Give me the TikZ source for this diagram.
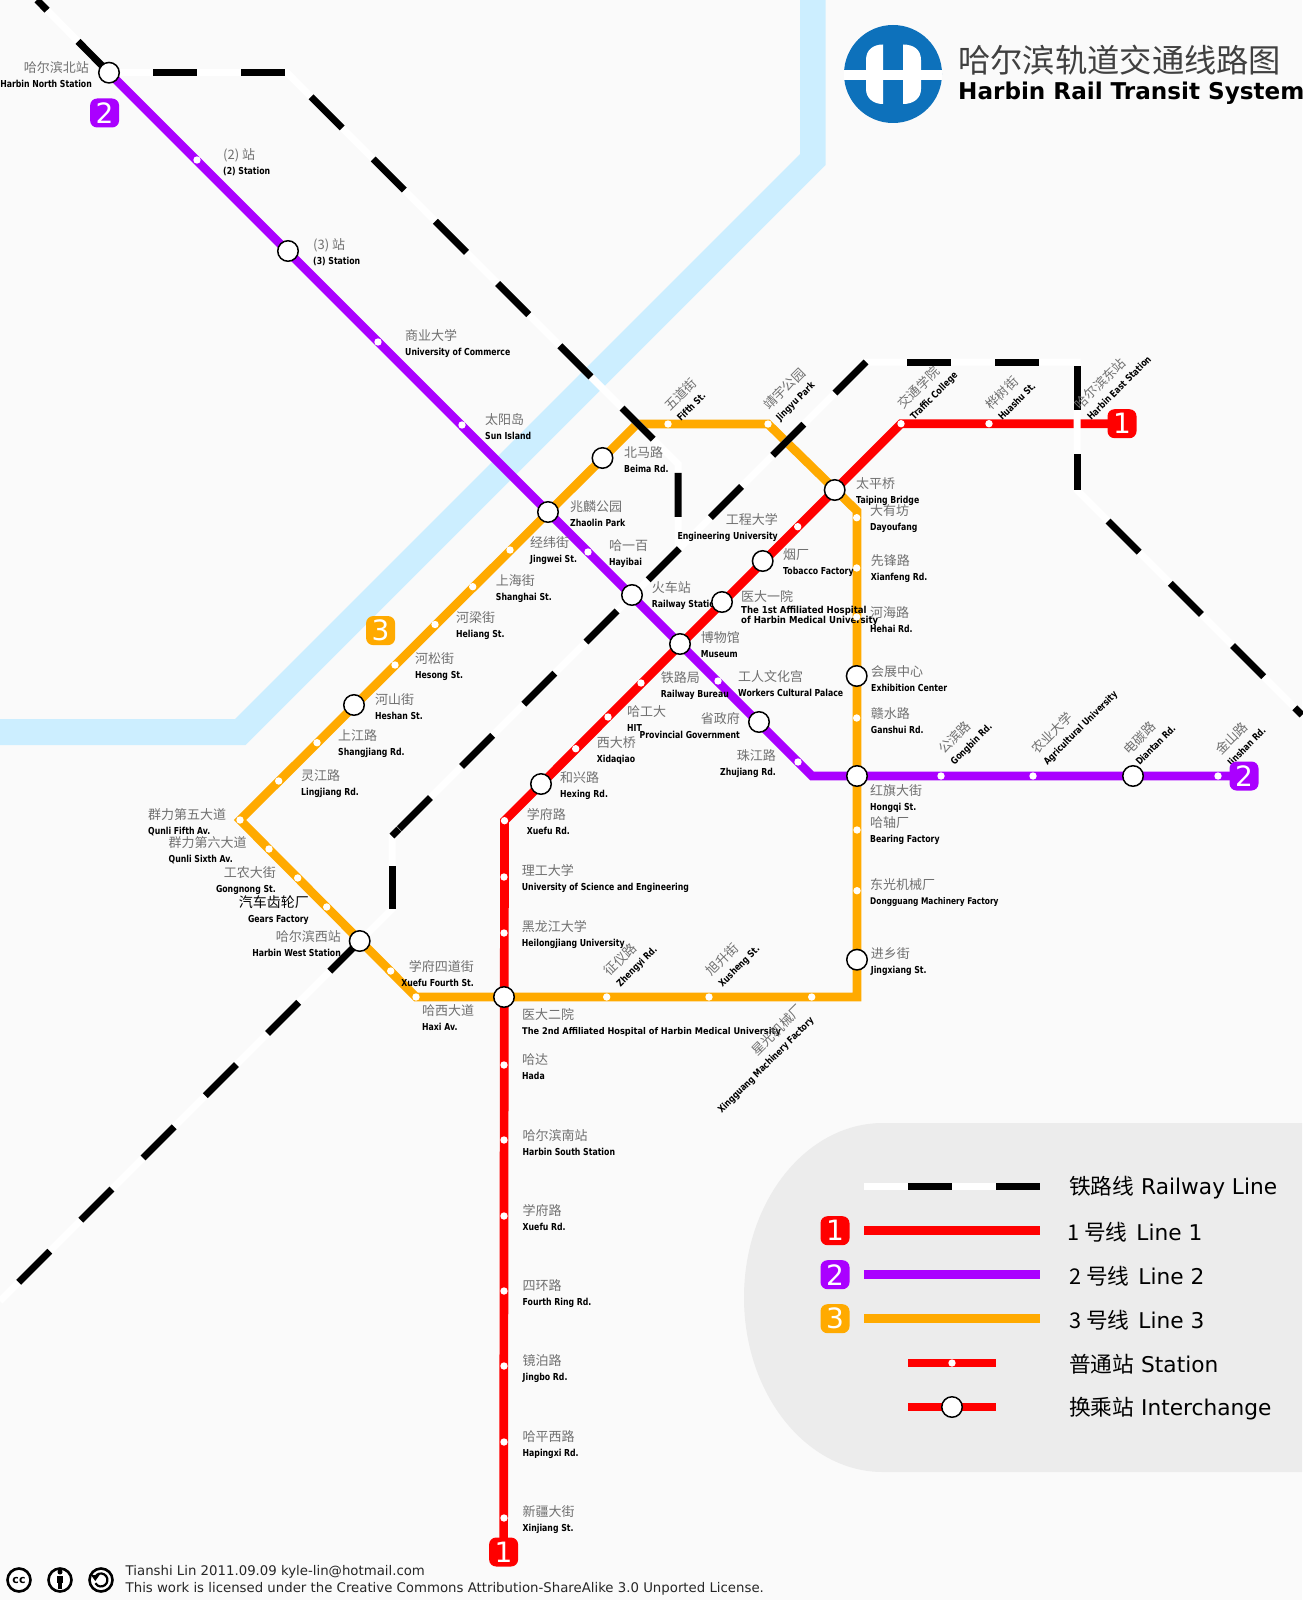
\documentclass[tikz,border=0pt]{standalone}
\usepackage{fontspec}
\usepackage{xcolor}
\usetikzlibrary{backgrounds}
\setmainfont{DejaVu Sans}
\newfontfamily\cjk{Noto Sans CJK SC}
\newfontfamily\enf[FakeStretch=0.81]{DejaVu Sans Bold}
\newfontfamily\enh[FakeStretch=0.89]{DejaVu Sans Bold}
\definecolor{paper} {RGB}{250,250,250}
\definecolor{river} {RGB}{204,238,255}
\definecolor{panel} {RGB}{236,236,236}
\definecolor{lred}  {RGB}{255,  0,  0}
\definecolor{lpurp} {RGB}{170,  0,255}
\definecolor{lorng} {RGB}{255,170,  0}
\definecolor{lblue} {RGB}{ 13,113,187}
\definecolor{zhgray}{RGB}{112,112,112}
% Chinese name over English name
\newcommand{\zhen}[2]{{\cjk\color{zhgray}\fontsize{13}{15}\selectfont #1}\\{\enf #2}}
\tikzset{
  % Map lines
  LR/.style={draw=lred,line width=8.7pt},
  LP/.style={draw=lpurp,line width=8.7pt},
  LO/.style={draw=lorng,line width=8.7pt},
  % Railway: white bed, black dashes
  RW/.style={draw=white,line width=7pt},
  RK/.style={draw=black,line width=7pt,dash pattern=on 44pt off 44pt},
  % Stations
  st/.style={circle,fill=white,inner sep=0pt,minimum size=7.4pt},
  ic/.style={circle,draw=black,fill=white,inner sep=0pt,
             minimum size=20.5pt,line width=1.5pt},
  % Line number plates
  plate/.style={rectangle,rounded corners=7pt,fill=#1,text=white,inner sep=0pt,
                minimum width=29pt,minimum height=29pt,
                font=\fontsize{28}{28}\selectfont},
  % Station labels
  lab/.style={anchor=west,align=left,inner sep=0pt,
              font=\fontsize{9.6}{15}\selectfont},
  labr/.style={lab,anchor=east,align=right},
  labs/.style={lab,rotate=45},
  labe/.style={labr,rotate=45},
  % Legend text
  leg/.style={anchor=west,inner sep=0pt,font=\fontsize{21.7}{24}\selectfont},
  cci/.style={circle,draw=black,fill=white,inner sep=0pt,
              minimum size=23pt,line width=2.6pt},
}
\begin{document}
\begin{tikzpicture}[x=1pt,y=-1pt]
\useasboundingbox (0,0) rectangle (1302,1600);
% -- Title --
\fill[lblue] (893,74) circle (49);
\fill[white] (844,70) rectangle (942,80);
\fill[white] (883,44.5) .. controls (873,44.5) and (866,50) .. (866,60) -- (866,89)
  .. controls (866,98) and (873,104) .. (883,104) -- cycle;
\fill[white] (903,44.5) .. controls (914,44.5) and (921,50) .. (921,60) -- (921,89)
  .. controls (921,98) and (914,104) .. (903,104) -- cycle;
\node[anchor=west,inner sep=0pt,font=\cjk\fontsize{32.3}{33}\selectfont,text=black!75]
at (958,60) (title) {哈尔滨轨道交通线路图};
\node[anchor=west,inner sep=0pt,font=\bfseries\fontsize{23.1}{24}\selectfont]
at (958,93.5) (titleen) {Harbin Rail Transit System};
% -- Line 2 --
\node[ic] (iHN) at (109,72.7) {};
\node[labr] (tHN) at (92,75) {\zhen{哈尔滨北站\hspace{3pt}}{Harbin North Station}};
\node[plate=lpurp] (pB2a) at (104.6,113) {2};
\node[st] (s2) at (197,160) {};
\node[lab] (t2) at (223,162.5) {\zhen{(2) 站}{(2) Station}};
\node[ic] (i3) at (288,251) {};
\node[lab] (t3) at (313,252.5) {\zhen{(3) 站}{(3) Station}};
\node[st] (sComm) at (378,342) {};
\node[lab] (tComm) at (405,343.5) {\zhen{商业大学}{University of Commerce}};
\node[st] (sSun) at (462,425) {};
\node[lab] (tSun) at (485,426.5) {\zhen{太阳岛}{Sun Island}};
\node[ic] (iZhao) at (548,512) {};
\node[lab] (tZhao) at (570,514) {\zhen{兆麟公园}{Zhaolin Park}};
\node[st] (sHay) at (588,552) {};
\node[lab] (tHay) at (609,553.5) {\zhen{哈一百}{Hayibai}};
\node[ic] (iRail) at (632,595) {};
\node[lab] (tRail) at (651.7,596) {\zhen{火车站}{Railway Station}};
\node[ic] (iMus) at (680,644) {};
\node[lab] (tMus) at (700.7,645) {\zhen{博物馆}{Museum}};
\node[st] (sWork) at (718,681) {};
\node[lab] (tWork) at (738,683.5) {\zhen{工人文化宫}{Workers Cultural Palace}};
\node[ic] (iGov) at (759,722) {};
\node[labr] (tGov) at (740,726) {\zhen{省政府}{Provincial Government}};
\node[st] (sZhu) at (798,762) {};
\node[labr] (tZhu) at (776,764) {\zhen{珠江路}{Zhujiang Rd.}};
\coordinate (cP) at (812,776);
\node[ic] (iHong) at (857,776) {};
\node[lab] (tHong) at (870,799) {\zhen{红旗大街}{Hongqi St.}};
\node[st] (sGong) at (941,776) {};
\node[labs] (tGong) at (946,757) {\zhen{公滨路}{Gongbin Rd.}};
\node[st] (sAgri) at (1033,776) {};
\node[labs] (tAgri) at (1039,757) {\zhen{农业大学}{Agricultural University}};
\node[ic] (iDian) at (1133,776) {};
\node[labs] (tDian) at (1130.5,757) {\zhen{电碳路}{Diantan Rd.}};
\node[st] (sJin) at (1218,776) {};
\node[labs] (tJin) at (1223,758) {\zhen{金山路}{Jinshan Rd.}};
\node[plate=lpurp] (pB2b) at (1244,776) {2};
% -- Line 1 --
\node[plate=lred] (pB1a) at (1122,423.7) {1};
\node[st] (sHua) at (989,423.7) {};
\node[labs] (tHua) at (993,412) {\zhen{桦树街}{Huashu St.}};
\node[labs] (tEast) at (1082,411.7) {\zhen{哈尔滨东站}{Harbin East Station}};
\node[st] (sTraf) at (901,423.7) {};
\node[labs] (tTraf) at (905.7,411.7) {\zhen{交通学院}{Traffic College}};
\node[ic] (iTai) at (834.7,490) {};
\node[lab] (tTai) at (856,491.5) {\zhen{太平桥}{Taiping Bridge}};
\node[st] (sEng) at (797.7,526.7) {};
\node[labr] (tEng) at (778,528) {\zhen{工程大学}{Engineering University}};
\node[ic] (iTob) at (762.7,561) {};
\node[lab] (tTob) at (783,562.5) {\zhen{烟厂}{Tobacco Factory}};
\node[ic] (iYi) at (722,602) {};
\node[lab,font=\fontsize{9.6}{10}\selectfont] (tYi) at (741,608) {{\cjk\color{zhgray}\fontsize{13}{15}\selectfont 医大一院}\\[2pt]{\enh The 1st Affiliated Hospital}\\{\enh of Harbin Medical University}};
\node[st] (sBur) at (641,683) {};
\node[lab] (tBur) at (660.7,685.5) {\zhen{铁路局}{Railway Bureau}};
\node[st] (sHit) at (608,717) {};
\node[lab] (tHit) at (627,718.5) {\zhen{哈工大}{HIT}};
\node[st] (sXida) at (575.7,748.7) {};
\node[lab] (tXida) at (596.7,750.5) {\zhen{西大桥}{Xidaqiao}};
\node[ic] (iHex) at (541,784) {};
\node[lab] (tHex) at (560,785.5) {\zhen{和兴路}{Hexing Rd.}};
\node[st] (sXuef) at (504.5,820.7) {};
\node[lab] (tXuef) at (526.7,822) {\zhen{学府路}{Xuefu Rd.}};
\node[st] (sLig) at (504,877) {};
\node[lab] (tLig) at (521.7,878.5) {\zhen{理工大学}{University of Science and Engineering}};
\node[st] (sHei) at (504,933) {};
\node[lab] (tHei) at (521.7,934.5) {\zhen{黑龙江大学}{Heilongjiang University}};
\node[ic] (iEr) at (504,997) {};
\node[lab,font=\fontsize{9.25}{15}\selectfont] (tEr) at (522,1022.5) {{\cjk\color{zhgray}\fontsize{13}{15}\selectfont 医大二院}\\{\enh The 2nd Affiliated Hospital of Harbin Medical University}};
\node[st] (sHada) at (504,1065) {};
\node[lab] (tHada) at (522,1066.5) {\zhen{哈达}{Hada}};
\node[st] (sSou) at (504,1140) {};
\node[lab] (tSou) at (522.5,1142.5) {\zhen{哈尔滨南站}{Harbin South Station}};
\node[st] (sXue2) at (504,1216) {};
\node[lab] (tXue2) at (522.5,1218) {\zhen{学府路}{Xuefu Rd.}};
\node[st] (sFou) at (504,1291) {};
\node[lab] (tFou) at (522.5,1293.5) {\zhen{四环路}{Fourth Ring Rd.}};
\node[st] (sJing) at (504,1366) {};
\node[lab] (tJing) at (522.5,1369) {\zhen{镜泊路}{Jingbo Rd.}};
\node[st] (sHap) at (504,1442) {};
\node[lab] (tHap) at (522.5,1444.5) {\zhen{哈平西路}{Hapingxi Rd.}};
\node[st] (sXin) at (504,1518) {};
\node[lab] (tXin) at (522.5,1520) {\zhen{新疆大街}{Xinjiang St.}};
\node[plate=lred] (pB1b) at (503.6,1552) {1};
% -- Line 3 --
\node[st] (sFif) at (668,424) {};
\node[labs] (tFif) at (671.8,413) {\zhen{五道街}{Fifth St.}};
\node[st] (sJy) at (768,424) {};
\node[labs] (tJy) at (771.6,413) {\zhen{靖宇公园}{Jingyu Park}};
\node[ic] (iBei) at (602.5,458) {};
\node[lab] (tBei) at (624,460) {\zhen{北马路}{Beima Rd.}};
\node[st] (sDay) at (856.7,517.7) {};
\node[lab] (tDay) at (870,519) {\zhen{大有坊}{Dayoufang}};
\node[st] (sXian) at (856.7,568) {};
\node[lab] (tXian) at (870.7,569) {\zhen{先锋路}{Xianfeng Rd.}};
\node[st] (sHeh) at (856.7,617) {};
\node[lab] (tHeh) at (870,619.5) {\zhen{河海路}{Hehai Rd.}};
\node[ic] (iHui) at (856.7,676) {};
\node[lab] (tHui) at (871,678.5) {\zhen{会展中心}{Exhibition Center}};
\node[st] (sGan) at (856.7,718) {};
\node[lab] (tGan) at (870.7,720.5) {\zhen{赣水路}{Ganshui Rd.}};
\node[st] (sBea) at (857,830) {};
\node[lab] (tBea) at (870,831) {\zhen{哈轴厂}{Bearing Factory}};
\node[st] (sDong) at (857,890.7) {};
\node[lab,font=\fontsize{9.2}{15}\selectfont] (tDong) at (870,892.5) {\zhen{东光机械厂}{Dongguang Machinery Factory}};
\node[ic] (iJx) at (857,959.7) {};
\node[lab] (tJx) at (870.7,961.5) {\zhen{进乡街}{Jingxiang St.}};
\node[st] (sXing) at (811.7,997) {};
\node[labe] (tXing) at (806,1012.5) {\zhen{星光机械厂}{Xingguang Machinery Factory}};
\node[st] (sXus) at (709,997) {};
\node[labs] (tXus) at (714,979) {\zhen{旭升街}{Xusheng St.}};
\node[st] (sZhe) at (606.7,997) {};
\node[labs] (tZhe) at (612,979) {\zhen{征仪路}{Zhengyi Rd.}};
\node[st] (sHexi) at (416,997) {};
\node[lab] (tHexi) at (422,1018) {\zhen{哈西大道}{Haxi Av.}};
\node[st] (sFou4) at (390.7,971) {};
\node[labr] (tFou4) at (474,973.5) {\zhen{学府四道街}{Xuefu Fourth St.}};
\node[ic] (iWest) at (359.7,941) {};
\node[labr] (tWest) at (341,944) {\zhen{哈尔滨西站}{Harbin West Station}};
\node[st] (sGear) at (326.7,907) {};
\node[labr] (tGear) at (309,910.5) {{\cjk\fontsize{14}{15}\selectfont 汽车齿轮厂}\\{\enf Gears Factory}};
\node[st] (sGnong) at (297.7,878) {};
\node[labr] (tGnong) at (276,881) {\zhen{工农大街}{Gongnong St.}};
\node[st] (sQ6) at (269,849) {};
\node[lab] (tQ6) at (168.5,850.5) {\zhen{群力第六大道}{Qunli Sixth Av.}};
\node[st] (sQ5) at (240,820) {};
\node[lab] (tQ5) at (148,822.5) {\zhen{群力第五大道}{Qunli Fifth Av.}};
\node[st] (sLing) at (278.7,781) {};
\node[lab] (tLing) at (301,783.5) {\zhen{灵江路}{Lingjiang Rd.}};
\node[st] (sShj) at (317,742.7) {};
\node[lab] (tShj) at (338,744) {\zhen{上江路}{Shangjiang Rd.}};
\node[ic] (iHes) at (354,705) {};
\node[lab] (tHes) at (375,706.5) {\zhen{河山街}{Heshan St.}};
\node[st] (sHsong) at (395,665) {};
\node[lab] (tHsong) at (415,667) {\zhen{河松街}{Hesong St.}};
\node[st] (sHl) at (435,624.5) {};
\node[lab] (tHl) at (456,625.5) {\zhen{河梁街}{Heliang St.}};
\node[st] (sSh) at (472.7,586.7) {};
\node[lab] (tSh) at (495.7,588.5) {\zhen{上海街}{Shanghai St.}};
\node[st] (sJw) at (510,550) {};
\node[lab] (tJw) at (530,551) {\zhen{经纬街}{Jingwei St.}};
\node[plate=lorng] (pB3) at (380.6,630.6) {3};
\coordinate (c3a) at (857,997);
\coordinate (c3b) at (857,511);
\coordinate (c3c) at (637,424);
% -- Railway corners --
\coordinate (rTL) at (37,0);
\coordinate (r1) at (287,72.7);
\coordinate (r2) at (678,464);
\coordinate (r2e) at (678,550);
\coordinate (r3) at (866,362);
\coordinate (r4) at (392,836);
\coordinate (r4a) at (399,829);
\coordinate (r5) at (392,909);
\coordinate (r6) at (0,1301);
\coordinate (r7) at (1077,362);
\coordinate (r8) at (1077,490);
\coordinate (r9) at (1302,715);
% -- Legend --
\coordinate (lgA1) at (864,1186.7); \coordinate (lgA2) at (1040,1186.7);
\coordinate (lgB1) at (864,1230.7); \coordinate (lgB2) at (1040,1230.7);
\coordinate (lgC1) at (864,1274.7); \coordinate (lgC2) at (1040,1274.7);
\coordinate (lgD1) at (864,1318.7); \coordinate (lgD2) at (1040,1318.7);
\coordinate (lgE1) at (908,1363);   \coordinate (lgE2) at (996,1363);
\coordinate (lgF1) at (908,1407);   \coordinate (lgF2) at (996,1407);
\node[plate=lred]   (lgP1) at (835,1230.7) {1};
\node[plate=lpurp]  (lgP2) at (835,1274.7) {2};
\node[plate=lorng]  (lgP3) at (835,1318.7) {3};
\node[st] (lgSt) at (952,1363) {};
\node[ic] (lgIc) at (952,1407) {};
\node[leg] (lgT1) at (1069,1187.5) {{\cjk 铁路线} Railway Line};
\node[leg] (lgT2) at (1067,1232) {{\cjk 1 号线}\hspace{2pt} Line 1};
\node[leg] (lgT3) at (1069,1276) {{\cjk 2 号线}\hspace{2pt} Line 2};
\node[leg] (lgT4) at (1069,1320) {{\cjk 3 号线}\hspace{2pt} Line 3};
\node[leg] (lgT5) at (1069,1364.5) {{\cjk 普通站} Station};
\node[leg] (lgT6) at (1069,1408.5) {{\cjk 换乘站} Interchange};
% -- Licence line --
\node[cci,font=\bfseries\fontsize{11}{11}\selectfont] (ccA) at (19,1580) {cc};
\node[cci] (ccB) at (60,1580) {};
\node[cci] (ccC) at (101,1580) {};
\fill (60,1572) circle (2.5);
\fill (56.7,1575.5) rectangle (63.3,1583);
\fill (58,1583) rectangle (62,1588.5);
\draw[line width=2.2pt] (95.3,1576.7) arc[start angle=-150,end angle=150,radius=6.5];
\fill (91,1575) -- (99.5,1575) -- (95.3,1581) -- cycle;
\node[anchor=west,align=left,inner sep=0pt,font=\fontsize{13.3}{16.8}\selectfont,text=black!85]
at (125.5,1580) (lic) {Tianshi Lin 2011.09.09 kyle-lin@hotmail.com\\This work is licensed under the Creative Commons Attribution-ShareAlike 3.0 Unported License.};
% -- Everything under the stations --
\begin{scope}[on background layer]
\fill[paper] (0,0) rectangle (1302,1600);
\fill[river] (800,0) -- (825.5,0) -- (825.5,165) -- (245.7,745) -- (0,745)
  -- (0,719) -- (235,719) -- (800,154) -- cycle;
\fill[panel] (1302,1123) -- (883,1123)
  arc[start angle=-90,end angle=-270,x radius=139,y radius=174.5] -- (1302,1472) -- cycle;
\draw[LP] (iHN.center) -- (cP) -- (pB2b.center);
\draw[LR] (pB1b.center) -- (sXuef.center) -- (sTraf.center) -- (pB1a.center);
\draw[LO] (sQ5.center) -- (sHexi.center) -- (c3a) -- (c3b) -- (sJy.center) -- (c3c) -- cycle;
\draw[RW] (rTL) -- (iHN.center) -- (r1) -- (r2) -- (r2e);
\draw[RW] (r6) -- (r5) -- (r4) -- (r3) -- (r7) -- (r8) -- (r9);
\draw[RK] (iHN.center) -- (rTL);
\draw[RK,dash phase=44pt] (iHN.center) -- (r1);
\draw[RK,dash phase=54pt] (r1) -- (r2) -- (r2e);
\draw[RK] (r3) -- (r4);
\draw[RK,solid] (r4a) -- (r4);
\draw[RK,dash phase=58pt] (r4) -- (r5);
\draw[RK,dash phase=44pt] (r5) -- (r6);
\draw[RK,dash phase=47pt] (r3) -- (r7);
\draw[RK,dash phase=84pt] (r7) -- (r8);
\draw[RK,dash phase=44pt] (r8) -- (r9);
% legend samples
\draw[RW] (lgA1) -- (lgA2);
\draw[RK,dash phase=44pt] (lgA1) -- (lgA2);
\draw[LR] (lgB1) -- (lgB2);
\draw[LP] (lgC1) -- (lgC2);
\draw[LO] (lgD1) -- (lgD2);
\draw[LR] (lgE1) -- (lgE2);
\draw[LR] (lgF1) -- (lgF2);
\end{scope}
\end{tikzpicture}
\end{document}
